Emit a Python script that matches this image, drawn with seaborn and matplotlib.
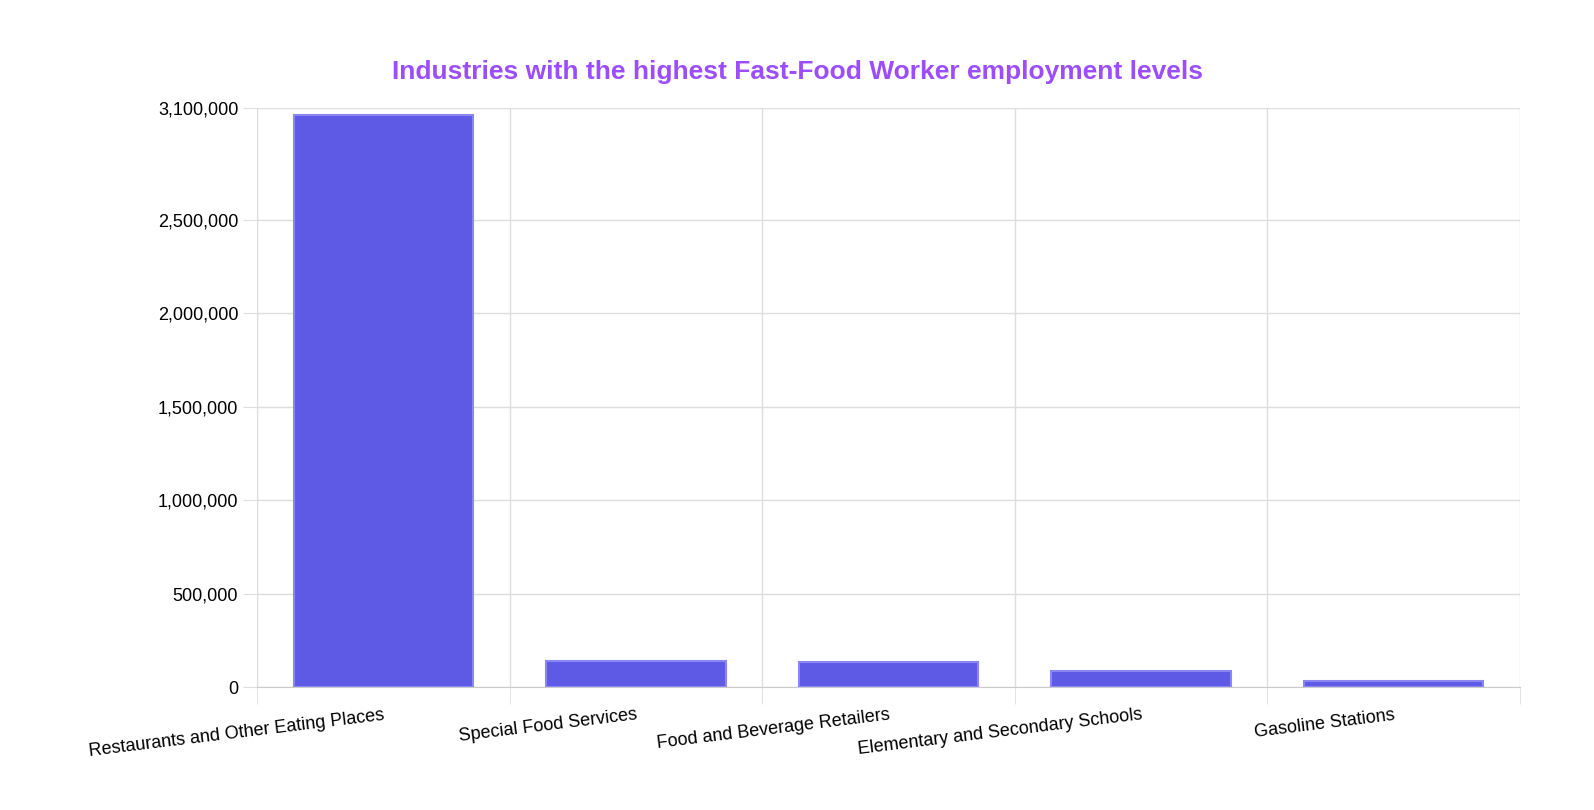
import numpy as np
import pandas as pd
import matplotlib
matplotlib.use("Agg")
import matplotlib.pyplot as plt
import seaborn as sns
from matplotlib.ticker import FuncFormatter, FixedLocator

industries = ["Restaurants and Other Eating Places", "Special Food Services",
              "Food and Beverage Retailers", "Elementary and Secondary Schools",
              "Gasoline Stations"]
employment = [3062000, 139000, 134000, 86000, 32000]

df = pd.DataFrame({"industry": industries, "employment": employment})

sns.set_style("white")
plt.rcParams["font.family"] = ["Liberation Sans", "DejaVu Sans"]
plt.rcParams["text.color"] = "black"
plt.rcParams["xtick.color"] = "black"
plt.rcParams["ytick.color"] = "black"

fig = plt.figure(figsize=(15.94, 8.1), dpi=100)
ax = fig.add_axes([257/1594, 1-687/810, (1520-257)/1594, (687-108)/810])

sns.barplot(data=df, x="industry", y="employment", ax=ax, color="#5f5ae6",
            edgecolor="#8a86f2", linewidth=1.5, width=0.71, saturation=1, zorder=3)

ax.set_xlim(-0.5, len(industries) - 0.5)
ax.set_ylim(0, 3100000)
ax.set_yticks([0, 500000, 1000000, 1500000, 2000000, 2500000, 3100000])
ax.yaxis.set_major_formatter(FuncFormatter(lambda v, p: f"{int(v):,}"))
ax.set_xlabel("")
ax.set_ylabel("")

ax.xaxis.set_minor_locator(FixedLocator(np.arange(-0.5, len(industries), 1.0)))
ax.grid(False)
ax.grid(True, axis="y", which="major", color="#dddddd", linewidth=1, zorder=0)
ax.grid(True, axis="x", which="minor", color="#dddddd", linewidth=1, zorder=0)
ax.tick_params(axis="x", which="major", bottom=False, length=0, pad=14, labelcolor="black")
ax.tick_params(axis="x", which="minor", bottom=True, length=12, color="#dddddd")
ax.tick_params(axis="y", left=True, length=10, color="#dddddd", labelsize=13, labelcolor="black")
plt.setp(ax.get_xticklabels(), rotation=7, ha="right", rotation_mode="anchor", fontsize=13)

for s in ["top", "right"]:
    ax.spines[s].set_visible(False)
ax.spines["left"].set_color("#dddddd")
ax.spines["bottom"].set_color("#cccccc")

fig.text(0.5, 1-72/810, "Industries with the highest Fast-Food Worker employment levels",
         ha="center", va="center", fontsize=19, fontweight="bold", color="#9b4dff")

fig.savefig("out.png", dpi=100)
